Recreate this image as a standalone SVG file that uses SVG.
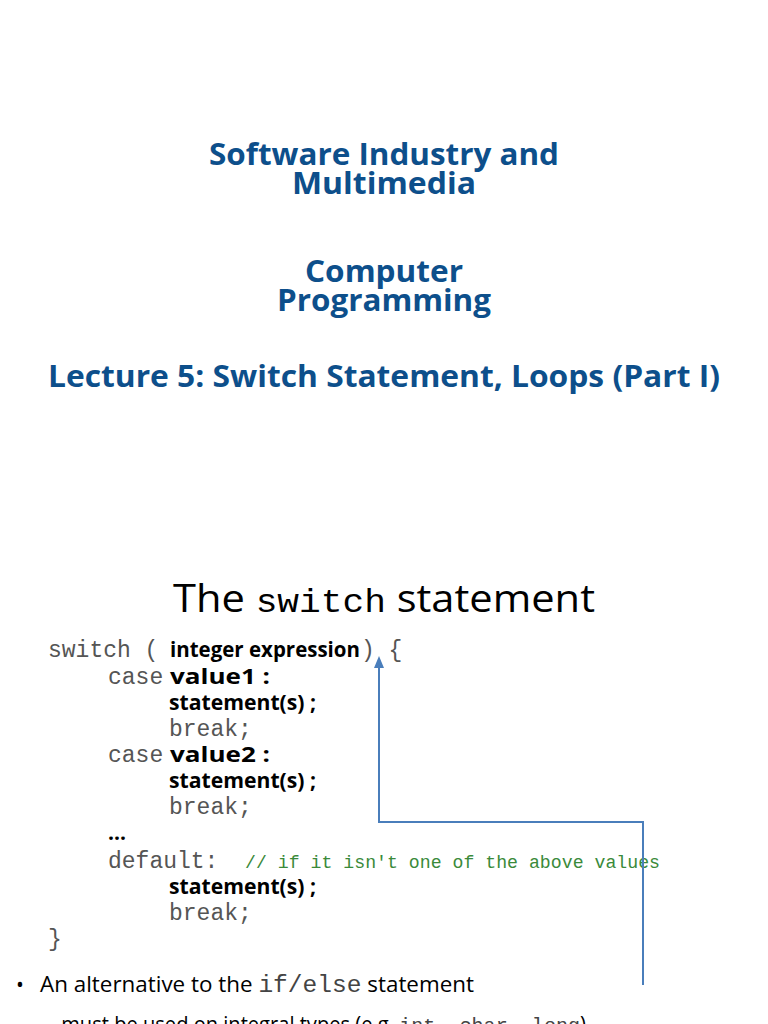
<svg xmlns="http://www.w3.org/2000/svg" width="768" height="1024" viewBox="0 0 768 1024">
<style>
.t{font-family:"Open Sans",sans-serif;font-weight:bold;fill:#0d4f8b;font-size:30px;text-anchor:middle}
.m{font-family:"Liberation Mono",monospace;font-size:23px;fill:#555}
.b{font-family:"Open Sans",sans-serif;font-weight:bold;font-size:21px;fill:#000}
.c{font-family:"Liberation Mono",monospace;font-size:18px;fill:#3a8a3a}
.n{font-family:"Open Sans",sans-serif;font-size:21px;fill:#000}
</style>
<defs><marker id="a" markerWidth="6" markerHeight="6" refX="3" refY="3" orient="auto"><path d="M0,0.5 L6,3 L0,5.5 z" fill="#4a7ebb"/></marker></defs>
<rect width="768" height="1024" fill="#fff"/>
<g id="title">
<text class="t" x="384" y="165" textLength="350" lengthAdjust="spacingAndGlyphs">Software Industry and</text>
<text class="t" x="384" y="194" textLength="184" lengthAdjust="spacingAndGlyphs">Multimedia</text>
<text class="t" x="384" y="282" textLength="158" lengthAdjust="spacingAndGlyphs">Computer</text>
<text class="t" x="384" y="311" textLength="214" lengthAdjust="spacingAndGlyphs">Programming</text>
<text class="t" x="384" y="387" textLength="672" lengthAdjust="spacingAndGlyphs">Lecture 5: Switch Statement, Loops (Part I)</text>
</g>
<g id="heading"><text x="384" y="612" text-anchor="middle" font-family="'Open Sans',sans-serif" font-size="38" fill="#000" textLength="422" lengthAdjust="spacingAndGlyphs">The <tspan font-family="Liberation Mono,monospace" font-size="33">switch</tspan> statement</text></g>
<g id="code">
<text class="m" x="48" y="657">switch (</text><text class="b" x="170" y="657" textLength="190" lengthAdjust="spacingAndGlyphs">integer expression</text><text class="m" x="361" y="657">) {</text>
<text class="m" x="108" y="684">case</text><text class="b" x="170" y="684" textLength="100" lengthAdjust="spacingAndGlyphs">value1 :</text>
<text class="b" x="169" y="710" textLength="147" lengthAdjust="spacingAndGlyphs">statement(s) ;</text>
<text class="m" x="169" y="736">break;</text>
<text class="m" x="108" y="762">case</text><text class="b" x="170" y="762" textLength="100" lengthAdjust="spacingAndGlyphs">value2 :</text>
<text class="b" x="169" y="788" textLength="147" lengthAdjust="spacingAndGlyphs">statement(s) ;</text>
<text class="m" x="169" y="814">break;</text>
<text class="b" x="108" y="840">...</text>
<text class="m" x="108" y="868">default:</text><text class="c" x="245" y="868" textLength="415" lengthAdjust="spacingAndGlyphs">// if it isn't one of the above values</text>
<text class="b" x="169" y="894" textLength="147" lengthAdjust="spacingAndGlyphs">statement(s) ;</text>
<text class="m" x="169" y="920">break;</text>
<text class="m" x="48" y="946">}</text>
</g>
<g id="connectors"><polyline points="643,985 643,822 379,822 379,662" fill="none" stroke="#4a7ebb" stroke-width="2" marker-end="url(#a)"/></g>
<g id="bullets">
<text class="n" x="16" y="992">•</text>
<text class="n" x="40" y="992" textLength="434" lengthAdjust="spacingAndGlyphs">An alternative to the <tspan font-family="Liberation Mono,monospace" font-size="23" fill="#444">if/else</tspan> statement</text>
<text class="n" x="46" y="1032" font-size="20" textLength="540" lengthAdjust="spacingAndGlyphs">– must be used on integral types  (e.g. <tspan font-family="Liberation Mono,monospace" fill="#444">int, char, long</tspan>)</text>
</g>
</svg>
